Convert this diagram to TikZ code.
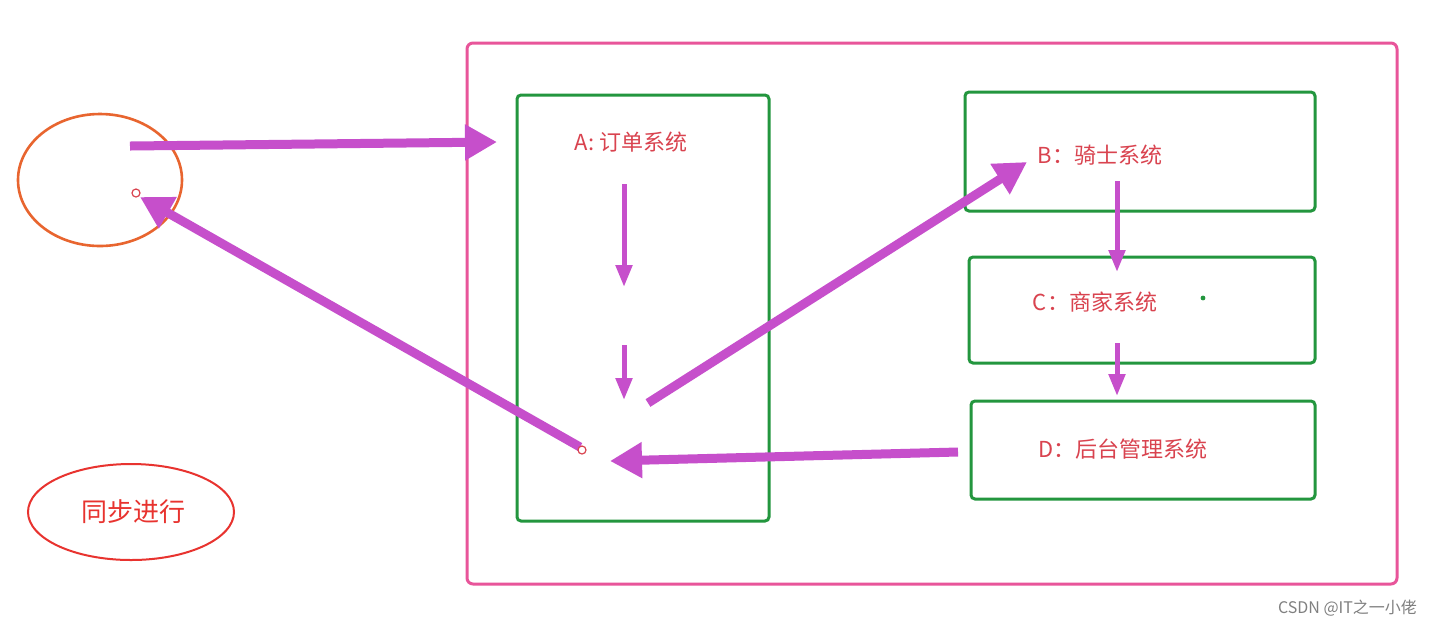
\documentclass[tikz,border=0pt]{standalone}
\usepackage{fontspec}
\setmainfont{Liberation Sans}
\newfontfamily\cjk{Noto Sans CJK SC}
\usetikzlibrary{arrows.meta}
\definecolor{pur}{HTML}{C64FCB}
\definecolor{grn}{HTML}{23963E}
\definecolor{pnk}{HTML}{E8559A}
\definecolor{org}{HTML}{E8652F}
\definecolor{lbl}{HTML}{D9434F}
\definecolor{syn}{HTML}{E8332F}
\tikzset{
  sys/.style={draw=grn,line width=1.5pt,rounded corners=2pt},
  lab/.style={text=lbl,font=\cjk\fontsize{11}{13}\selectfont},
  bigarr/.style={pur,line width=4.5pt,-{Triangle[length=16pt,width=17pt]}},
  smallarr/.style={pur,line width=2.5pt,-{Triangle[length=11pt,width=8pt]}},
  dot/.style={circle,draw=lbl,fill=white,line width=0.6pt,inner sep=0pt,minimum size=4pt}
}
\begin{document}
\begin{tikzpicture}[x=0.5pt,y=-0.5pt]
\useasboundingbox[fill=white] (0,0) rectangle (1431,629);
\draw[org,line width=1.3pt] (100,180) ellipse [x radius=82,y radius=66];
\draw[syn,line width=1pt] (131,512) ellipse [x radius=103,y radius=48];
\node[text=syn,font=\cjk\fontsize{13}{15}\selectfont] (sync) at (134,512) {同步进行};
\draw[pnk,line width=1.5pt,rounded corners=3pt] (467,43) rectangle (1397,584);
\draw[sys] (517,95) rectangle (769,521);
\draw[sys] (965,92) rectangle (1315,211);
\draw[sys] (969,257) rectangle (1315,363);
\draw[sys] (971,401) rectangle (1315,499);
\node[lab] (A) at (631,142) {A: 订单系统};
\node[lab] (B) at (1100,155) {B：骑士系统};
\node[lab] (C) at (1095,302) {C：商家系统};
\node[lab] (D) at (1123,449) {D：后台管理系统};
\fill[grn] (1203,298) circle (1.2pt);
\coordinate (c1) at (130,146); \coordinate (a1) at (497,142);
\coordinate (r1) at (580,447); \coordinate (c2) at (140,197);
\coordinate (d1) at (624,184); \coordinate (d2) at (624,287);
\coordinate (d3) at (624,345); \coordinate (d4) at (624,400);
\coordinate (s1) at (648,403); \coordinate (b1) at (1027,162);
\coordinate (e1) at (958,452); \coordinate (e2) at (610,461);
\coordinate (f1) at (1117,181); \coordinate (f2) at (1117,272);
\coordinate (g1) at (1117,343); \coordinate (g2) at (1117,396);
\draw[bigarr] (c1) -- (a1);
\draw[bigarr] (r1) -- (c2);
\draw[smallarr] (d1) -- (d2);
\draw[smallarr] (d3) -- (d4);
\draw[bigarr] (s1) -- (b1);
\draw[bigarr] (e1) -- (e2);
\draw[smallarr] (f1) -- (f2);
\draw[smallarr] (g1) -- (g2);
\node[dot] at (136,193) {};
\node[dot] at (582,450) {};
\node[text=gray,font=\cjk\fontsize{8}{10}\selectfont,anchor=east] (wm) at (1424,608) {CSDN @IT之一小佬};
\end{tikzpicture}
\end{document}
